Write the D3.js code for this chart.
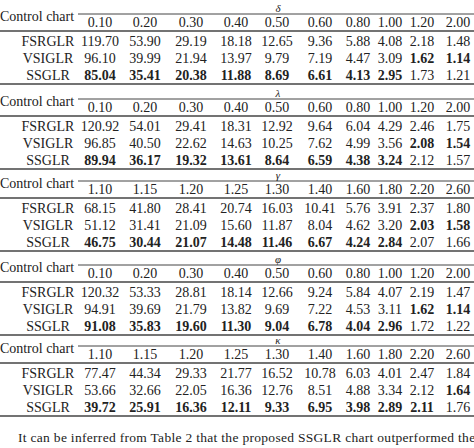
<!DOCTYPE html>
<html><head><meta charset="utf-8">
<script src="https://cdn.jsdelivr.net/npm/d3@7"></script>
<style>body{margin:0;background:#fff}</style>
</head><body><div id="chart"></div>
<script>
const charts = ["FSRGLR", "VSIGLR", "SSGLR"];
const symbols = ["δ", "λ", "γ", "φ", "κ"];
const shiftsA = ["0.10","0.20","0.30","0.40","0.50","0.60","0.80","1.00","1.20","2.00"];
const shiftsB = ["1.10","1.15","1.20","1.25","1.30","1.40","1.60","1.80","2.20","2.60"];
const headers = [shiftsA, shiftsA, shiftsB, shiftsA, shiftsB];

const deltaVals = [
  [119.70,53.90,29.19,18.18,12.65,9.36,5.88,4.08,2.18,1.48],
  [96.10,39.99,21.94,13.97,9.79,7.19,4.47,3.09,1.62,1.14],
  [85.04,35.41,20.38,11.88,8.69,6.61,4.13,2.95,1.73,1.21]];
const lambdaVals = [
  [120.92,54.01,29.41,18.31,12.92,9.64,6.04,4.29,2.46,1.75],
  [96.85,40.50,22.62,14.63,10.25,7.62,4.99,3.56,2.08,1.54],
  [89.94,36.17,19.32,13.61,8.64,6.59,4.38,3.24,2.12,1.57]];
const gammaVals = [
  [68.15,41.80,28.41,20.74,16.03,10.41,5.76,3.91,2.37,1.80],
  [51.12,31.41,21.09,15.60,11.87,8.04,4.62,3.20,2.03,1.58],
  [46.75,30.44,21.07,14.48,11.46,6.67,4.24,2.84,2.07,1.66]];
const phiVals = [
  [120.32,53.33,28.81,18.14,12.66,9.24,5.84,4.07,2.19,1.47],
  [94.91,39.69,21.79,13.82,9.69,7.22,4.53,3.11,1.62,1.14],
  [91.08,35.83,19.60,11.30,9.04,6.78,4.04,2.96,1.72,1.22]];
const kappaVals = [
  [77.47,44.34,29.33,21.77,16.52,10.78,6.03,4.01,2.47,1.84],
  [53.66,32.66,22.05,16.36,12.76,8.51,4.88,3.34,2.12,1.64],
  [39.72,25.91,16.36,12.11,9.33,6.95,3.98,2.89,2.11,1.76]];
const blocks = [deltaVals, lambdaVals, gammaVals, phiVals, kappaVals];

const W = 474, H = 448;
const colCenters = [100,145,191,236,277,320,358,390,422,458];
const rowStart = [41,126,208,292,373];
const rowGap = 17;
const font = "'Liberation Serif', 'DejaVu Serif', serif";

const svg = d3.select("#chart").append("svg").attr("width", W).attr("height", H)
  .style("font-family", font).style("font-size", "14px").attr("fill", "#222");

const x = d3.scaleOrdinal().domain(d3.range(10)).range(colCenters);

blocks.forEach((vals, b) => {
  const y0 = rowStart[b];
  const g = svg.append("g");
  g.append("line").attr("x1", 78).attr("x2", W).attr("y1", y0 - 27).attr("y2", y0 - 27)
    .attr("stroke", "#444").attr("stroke-width", 1);
  g.append("line").attr("x1", 0).attr("x2", W).attr("y1", y0 - 10).attr("y2", y0 - 10)
    .attr("stroke", "#444").attr("stroke-width", 1.4);
  g.append("line").attr("x1", 0).attr("x2", W).attr("y1", y0 + 43).attr("y2", y0 + 43)
    .attr("stroke", "#444").attr("stroke-width", 1.6);
  g.append("text").attr("x", 37).attr("y", y0 - 20).attr("text-anchor", "middle")
    .text("Control chart");
  g.append("text").attr("x", 278).attr("y", y0 - 29).attr("text-anchor", "middle")
    .style("font-style", "italic").style("font-size", "11px").text(symbols[b]);
  g.selectAll(".h").data(headers[b]).enter().append("text")
    .attr("x", (d, i) => x(i)).attr("y", y0 - 14).attr("text-anchor", "middle").text(d => d);
  const mins = d3.range(10).map(j => d3.min(vals, r => r[j]));
  vals.forEach((row, r) => {
    const yy = y0 + 5 + r * rowGap;
    g.append("text").attr("x", 48).attr("y", yy).attr("text-anchor", "middle").text(charts[r]);
    g.selectAll(".c" + r).data(row).enter().append("text")
      .attr("x", (d, j) => x(j)).attr("y", yy).attr("text-anchor", "middle")
      .style("font-weight", (d, j) => d === mins[j] ? "bold" : "normal")
      .text(d => d.toFixed(2));
  });
});

svg.append("text").attr("x", 18).attr("y", 442).style("font-size", "13.5px")
  .style("letter-spacing", "0.3px")
  .text("It can be inferred from Table 2 that the proposed SSGLR chart outperformed the");
</script></body></html>
